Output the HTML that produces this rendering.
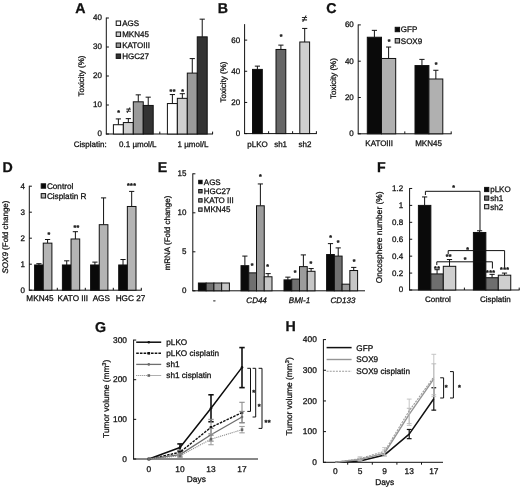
<!DOCTYPE html>
<html lang="en">
<head>
<meta charset="utf-8">
<title>Figure</title>
<style>
html, body { margin: 0; padding: 0; background: #ffffff; }
body { width: 520px; height: 488px; overflow: hidden; }
svg text { stroke: #111; stroke-width: 0.28px; }
svg { display: block; text-rendering: geometricPrecision; font-family: "Liberation Sans", Arial, Helvetica, sans-serif; }
</style>
</head>
<body>
<svg width="520" height="488" viewBox="0 0 520 488">
<rect x="0" y="0" width="520" height="488" fill="#ffffff"/>
<text x="75.20" y="12.80" font-size="14.2" text-anchor="start" font-weight="bold" font-style="normal" fill="#111" >A</text>
<line x1="106.30" y1="134.40" x2="106.30" y2="17.60" stroke="#111" stroke-width="1.0" />
<line x1="106.30" y1="134.00" x2="108.90" y2="134.00" stroke="#111" stroke-width="1.0" />
<text x="101.90" y="136.48" font-size="8.0" text-anchor="end" font-weight="normal" font-style="normal" fill="#111" >0</text>
<line x1="106.30" y1="105.00" x2="108.90" y2="105.00" stroke="#111" stroke-width="1.0" />
<text x="101.90" y="107.48" font-size="8.0" text-anchor="end" font-weight="normal" font-style="normal" fill="#111" >10</text>
<line x1="106.30" y1="76.00" x2="108.90" y2="76.00" stroke="#111" stroke-width="1.0" />
<text x="101.90" y="78.48" font-size="8.0" text-anchor="end" font-weight="normal" font-style="normal" fill="#111" >20</text>
<line x1="106.30" y1="47.00" x2="108.90" y2="47.00" stroke="#111" stroke-width="1.0" />
<text x="101.90" y="49.48" font-size="8.0" text-anchor="end" font-weight="normal" font-style="normal" fill="#111" >30</text>
<line x1="106.30" y1="18.00" x2="108.90" y2="18.00" stroke="#111" stroke-width="1.0" />
<text x="101.90" y="20.48" font-size="8.0" text-anchor="end" font-weight="normal" font-style="normal" fill="#111" >40</text>
<line x1="105.90" y1="134.00" x2="213.00" y2="134.00" stroke="#111" stroke-width="1.0" />
<line x1="159.80" y1="134.00" x2="159.80" y2="131.60" stroke="#111" stroke-width="1.0" />
<line x1="212.60" y1="134.00" x2="212.60" y2="131.60" stroke="#111" stroke-width="1.0" />
<text transform="translate(84.00,76.00) rotate(-90)" font-size="8.0" text-anchor="middle" fill="#111">Toxicity (%)</text>
<line x1="118.38" y1="118.92" x2="118.38" y2="124.72" stroke="#111" stroke-width="1.0" />
<line x1="115.78" y1="118.92" x2="120.97" y2="118.92" stroke="#111" stroke-width="1.0" />
<rect x="113.40" y="124.72" width="9.95" height="9.28" fill="#ffffff" stroke="#111" stroke-width="1.0"/>
<line x1="128.33" y1="118.63" x2="128.33" y2="122.55" stroke="#111" stroke-width="1.0" />
<line x1="125.73" y1="118.63" x2="130.93" y2="118.63" stroke="#111" stroke-width="1.0" />
<rect x="123.35" y="122.55" width="9.95" height="11.45" fill="#cfcfcf" stroke="#111" stroke-width="1.0"/>
<line x1="138.28" y1="94.85" x2="138.28" y2="101.81" stroke="#111" stroke-width="1.0" />
<line x1="135.68" y1="94.85" x2="140.88" y2="94.85" stroke="#111" stroke-width="1.0" />
<rect x="133.30" y="101.81" width="9.95" height="32.19" fill="#9a9a9a" stroke="#111" stroke-width="1.0"/>
<line x1="148.22" y1="97.17" x2="148.22" y2="105.44" stroke="#111" stroke-width="1.0" />
<line x1="145.62" y1="97.17" x2="150.82" y2="97.17" stroke="#111" stroke-width="1.0" />
<rect x="143.25" y="105.44" width="9.95" height="28.56" fill="#333333" stroke="#111" stroke-width="1.0"/>
<line x1="172.38" y1="94.56" x2="172.38" y2="103.55" stroke="#111" stroke-width="1.0" />
<line x1="169.78" y1="94.56" x2="174.97" y2="94.56" stroke="#111" stroke-width="1.0" />
<rect x="167.40" y="103.55" width="9.95" height="30.45" fill="#ffffff" stroke="#111" stroke-width="1.0"/>
<line x1="182.32" y1="93.69" x2="182.32" y2="98.33" stroke="#111" stroke-width="1.0" />
<line x1="179.72" y1="93.69" x2="184.92" y2="93.69" stroke="#111" stroke-width="1.0" />
<rect x="177.35" y="98.33" width="9.95" height="35.67" fill="#cfcfcf" stroke="#111" stroke-width="1.0"/>
<line x1="192.28" y1="58.60" x2="192.28" y2="73.10" stroke="#111" stroke-width="1.0" />
<line x1="189.68" y1="58.60" x2="194.88" y2="58.60" stroke="#111" stroke-width="1.0" />
<rect x="187.30" y="73.10" width="9.95" height="60.90" fill="#9a9a9a" stroke="#111" stroke-width="1.0"/>
<line x1="202.22" y1="19.16" x2="202.22" y2="36.85" stroke="#111" stroke-width="1.0" />
<line x1="199.62" y1="19.16" x2="204.82" y2="19.16" stroke="#111" stroke-width="1.0" />
<rect x="197.25" y="36.85" width="9.95" height="97.15" fill="#333333" stroke="#111" stroke-width="1.0"/>
<text x="118.50" y="115.03" font-size="7.0" text-anchor="middle" font-weight="bold" font-style="normal" fill="#111" >*</text>
<text x="128.50" y="112.81" font-size="8.5" text-anchor="middle" font-weight="normal" font-style="normal" fill="#111" >≠</text>
<text x="172.70" y="94.03" font-size="7.0" text-anchor="middle" font-weight="bold" font-style="normal" fill="#111" letter-spacing="0.4">**</text>
<text x="182.50" y="94.03" font-size="7.0" text-anchor="middle" font-weight="bold" font-style="normal" fill="#111" >*</text>
<rect x="116.20" y="21.00" width="4.40" height="4.40" fill="#ffffff" stroke="#111" stroke-width="1.0"/>
<text x="122.20" y="26.00" font-size="8.0" text-anchor="start" font-weight="normal" font-style="normal" fill="#111" >AGS</text>
<rect x="116.20" y="32.00" width="4.40" height="4.40" fill="#cfcfcf" stroke="#111" stroke-width="1.0"/>
<text x="122.20" y="37.00" font-size="8.0" text-anchor="start" font-weight="normal" font-style="normal" fill="#111" >MKN45</text>
<rect x="116.20" y="43.00" width="4.40" height="4.40" fill="#9a9a9a" stroke="#111" stroke-width="1.0"/>
<text x="122.20" y="48.00" font-size="8.0" text-anchor="start" font-weight="normal" font-style="normal" fill="#111" >KATOIII</text>
<rect x="116.20" y="54.00" width="4.40" height="4.40" fill="#333333" stroke="#111" stroke-width="1.0"/>
<text x="122.20" y="59.00" font-size="8.0" text-anchor="start" font-weight="normal" font-style="normal" fill="#111" >HGC27</text>
<text x="73.80" y="147.30" font-size="8.0" text-anchor="start" font-weight="normal" font-style="normal" fill="#111" >Cisplatin:</text>
<text x="137.80" y="147.30" font-size="8.0" text-anchor="middle" font-weight="normal" font-style="normal" fill="#111" >0.1 µmol/L</text>
<text x="193.00" y="147.30" font-size="8.0" text-anchor="middle" font-weight="normal" font-style="normal" fill="#111" >1 µmol/L</text>
<text x="217.80" y="12.80" font-size="14.2" text-anchor="start" font-weight="bold" font-style="normal" fill="#111" >B</text>
<line x1="244.60" y1="134.00" x2="244.60" y2="24.14" stroke="#111" stroke-width="1.0" />
<line x1="244.60" y1="133.60" x2="247.20" y2="133.60" stroke="#111" stroke-width="1.0" />
<text x="240.20" y="136.08" font-size="8.0" text-anchor="end" font-weight="normal" font-style="normal" fill="#111" >0</text>
<line x1="244.60" y1="102.44" x2="247.20" y2="102.44" stroke="#111" stroke-width="1.0" />
<text x="240.20" y="104.92" font-size="8.0" text-anchor="end" font-weight="normal" font-style="normal" fill="#111" >20</text>
<line x1="244.60" y1="71.28" x2="247.20" y2="71.28" stroke="#111" stroke-width="1.0" />
<text x="240.20" y="73.76" font-size="8.0" text-anchor="end" font-weight="normal" font-style="normal" fill="#111" >40</text>
<line x1="244.60" y1="40.12" x2="247.20" y2="40.12" stroke="#111" stroke-width="1.0" />
<text x="240.20" y="42.60" font-size="8.0" text-anchor="end" font-weight="normal" font-style="normal" fill="#111" >60</text>
<line x1="244.20" y1="133.60" x2="316.80" y2="133.60" stroke="#111" stroke-width="1.0" />
<line x1="268.60" y1="133.60" x2="268.60" y2="131.20" stroke="#111" stroke-width="1.0" />
<line x1="292.60" y1="133.60" x2="292.60" y2="131.20" stroke="#111" stroke-width="1.0" />
<line x1="316.40" y1="133.60" x2="316.40" y2="131.20" stroke="#111" stroke-width="1.0" />
<text transform="translate(225.50,82.00) rotate(-90)" font-size="8.0" text-anchor="middle" fill="#111">Toxicity (%)</text>
<line x1="257.40" y1="66.14" x2="257.40" y2="69.41" stroke="#111" stroke-width="1.0" />
<line x1="254.80" y1="66.14" x2="260.00" y2="66.14" stroke="#111" stroke-width="1.0" />
<rect x="252.50" y="69.41" width="9.80" height="64.19" fill="#0a0a0a" stroke="#111" stroke-width="1.0"/>
<line x1="280.90" y1="45.11" x2="280.90" y2="49.47" stroke="#111" stroke-width="1.0" />
<line x1="278.30" y1="45.11" x2="283.50" y2="45.11" stroke="#111" stroke-width="1.0" />
<rect x="276.00" y="49.47" width="9.80" height="84.13" fill="#666666" stroke="#111" stroke-width="1.0"/>
<line x1="304.70" y1="28.43" x2="304.70" y2="41.99" stroke="#111" stroke-width="1.0" />
<line x1="302.10" y1="28.43" x2="307.30" y2="28.43" stroke="#111" stroke-width="1.0" />
<rect x="299.80" y="41.99" width="9.80" height="91.61" fill="#cfcfcf" stroke="#111" stroke-width="1.0"/>
<text x="281.00" y="38.52" font-size="7.0" text-anchor="middle" font-weight="bold" font-style="normal" fill="#111" >*</text>
<text x="304.50" y="21.90" font-size="10" text-anchor="middle" font-weight="normal" font-style="normal" fill="#111" >≠</text>
<text x="257.50" y="146.80" font-size="8.0" text-anchor="middle" font-weight="normal" font-style="normal" fill="#111" >pLKO</text>
<text x="280.60" y="146.80" font-size="8.0" text-anchor="middle" font-weight="normal" font-style="normal" fill="#111" >sh1</text>
<text x="305.00" y="146.80" font-size="8.0" text-anchor="middle" font-weight="normal" font-style="normal" fill="#111" >sh2</text>
<text x="326.30" y="12.80" font-size="14.2" text-anchor="start" font-weight="bold" font-style="normal" fill="#111" >C</text>
<line x1="358.20" y1="134.20" x2="358.20" y2="24.50" stroke="#111" stroke-width="1.0" />
<line x1="358.20" y1="133.80" x2="360.80" y2="133.80" stroke="#111" stroke-width="1.0" />
<text x="353.80" y="136.28" font-size="8.0" text-anchor="end" font-weight="normal" font-style="normal" fill="#111" >0</text>
<line x1="358.20" y1="97.50" x2="360.80" y2="97.50" stroke="#111" stroke-width="1.0" />
<text x="353.80" y="99.98" font-size="8.0" text-anchor="end" font-weight="normal" font-style="normal" fill="#111" >20</text>
<line x1="358.20" y1="61.20" x2="360.80" y2="61.20" stroke="#111" stroke-width="1.0" />
<text x="353.80" y="63.68" font-size="8.0" text-anchor="end" font-weight="normal" font-style="normal" fill="#111" >40</text>
<line x1="358.20" y1="24.90" x2="360.80" y2="24.90" stroke="#111" stroke-width="1.0" />
<text x="353.80" y="27.38" font-size="8.0" text-anchor="end" font-weight="normal" font-style="normal" fill="#111" >60</text>
<line x1="357.80" y1="133.80" x2="451.60" y2="133.80" stroke="#111" stroke-width="1.0" />
<line x1="404.80" y1="133.80" x2="404.80" y2="131.40" stroke="#111" stroke-width="1.0" />
<line x1="451.20" y1="133.80" x2="451.20" y2="131.40" stroke="#111" stroke-width="1.0" />
<text transform="translate(335.50,78.60) rotate(-90)" font-size="8.0" text-anchor="middle" fill="#111">Toxicity (%)</text>
<line x1="374.40" y1="30.35" x2="374.40" y2="37.24" stroke="#111" stroke-width="1.0" />
<line x1="371.80" y1="30.35" x2="377.00" y2="30.35" stroke="#111" stroke-width="1.0" />
<rect x="367.30" y="37.24" width="14.20" height="96.56" fill="#0a0a0a" stroke="#111" stroke-width="1.0"/>
<line x1="388.60" y1="47.04" x2="388.60" y2="58.48" stroke="#111" stroke-width="1.0" />
<line x1="386.00" y1="47.04" x2="391.20" y2="47.04" stroke="#111" stroke-width="1.0" />
<rect x="381.50" y="58.48" width="14.20" height="75.32" fill="#b0b0b0" stroke="#111" stroke-width="1.0"/>
<line x1="421.95" y1="59.39" x2="421.95" y2="65.56" stroke="#111" stroke-width="1.0" />
<line x1="419.35" y1="59.39" x2="424.55" y2="59.39" stroke="#111" stroke-width="1.0" />
<rect x="415.00" y="65.56" width="13.90" height="68.24" fill="#0a0a0a" stroke="#111" stroke-width="1.0"/>
<line x1="435.85" y1="70.28" x2="435.85" y2="78.99" stroke="#111" stroke-width="1.0" />
<line x1="433.25" y1="70.28" x2="438.45" y2="70.28" stroke="#111" stroke-width="1.0" />
<rect x="428.90" y="78.99" width="13.90" height="54.81" fill="#b0b0b0" stroke="#111" stroke-width="1.0"/>
<text x="389.00" y="43.82" font-size="7.0" text-anchor="middle" font-weight="bold" font-style="normal" fill="#111" >*</text>
<text x="436.20" y="67.33" font-size="7.0" text-anchor="middle" font-weight="bold" font-style="normal" fill="#111" >*</text>
<rect x="395.20" y="27.30" width="4.40" height="4.40" fill="#0a0a0a" stroke="#111" stroke-width="1.0"/>
<text x="400.80" y="32.30" font-size="8.0" text-anchor="start" font-weight="normal" font-style="normal" fill="#111" >GFP</text>
<rect x="395.20" y="38.60" width="4.40" height="4.40" fill="#b0b0b0" stroke="#111" stroke-width="1.0"/>
<text x="400.80" y="43.60" font-size="8.0" text-anchor="start" font-weight="normal" font-style="normal" fill="#111" >SOX9</text>
<text x="379.20" y="146.30" font-size="8.0" text-anchor="middle" font-weight="normal" font-style="normal" fill="#111" >KATOIII</text>
<text x="428.50" y="146.30" font-size="8.0" text-anchor="middle" font-weight="normal" font-style="normal" fill="#111" >MKN45</text>
<text x="2.50" y="172.00" font-size="14.2" text-anchor="start" font-weight="bold" font-style="normal" fill="#111" >D</text>
<line x1="29.30" y1="290.60" x2="29.30" y2="185.80" stroke="#111" stroke-width="1.0" />
<line x1="29.30" y1="290.20" x2="31.90" y2="290.20" stroke="#111" stroke-width="1.0" />
<text x="24.90" y="292.68" font-size="8.0" text-anchor="end" font-weight="normal" font-style="normal" fill="#111" >0</text>
<line x1="29.30" y1="264.20" x2="31.90" y2="264.20" stroke="#111" stroke-width="1.0" />
<text x="24.90" y="266.68" font-size="8.0" text-anchor="end" font-weight="normal" font-style="normal" fill="#111" >1</text>
<line x1="29.30" y1="238.20" x2="31.90" y2="238.20" stroke="#111" stroke-width="1.0" />
<text x="24.90" y="240.68" font-size="8.0" text-anchor="end" font-weight="normal" font-style="normal" fill="#111" >2</text>
<line x1="29.30" y1="212.20" x2="31.90" y2="212.20" stroke="#111" stroke-width="1.0" />
<text x="24.90" y="214.68" font-size="8.0" text-anchor="end" font-weight="normal" font-style="normal" fill="#111" >3</text>
<line x1="29.30" y1="186.20" x2="31.90" y2="186.20" stroke="#111" stroke-width="1.0" />
<text x="24.90" y="188.68" font-size="8.0" text-anchor="end" font-weight="normal" font-style="normal" fill="#111" >4</text>
<line x1="28.90" y1="290.20" x2="141.80" y2="290.20" stroke="#111" stroke-width="1.0" />
<line x1="57.30" y1="290.20" x2="57.30" y2="287.80" stroke="#111" stroke-width="1.0" />
<line x1="85.30" y1="290.20" x2="85.30" y2="287.80" stroke="#111" stroke-width="1.0" />
<line x1="113.30" y1="290.20" x2="113.30" y2="287.80" stroke="#111" stroke-width="1.0" />
<line x1="141.30" y1="290.20" x2="141.30" y2="287.80" stroke="#111" stroke-width="1.0" />
<text transform="translate(8,237) rotate(-90)" font-size="8.0" text-anchor="middle" fill="#111"><tspan font-style="italic">SOX9</tspan> (Fold change)</text>
<line x1="38.93" y1="263.68" x2="38.93" y2="264.98" stroke="#111" stroke-width="1.0" />
<line x1="36.33" y1="263.68" x2="41.53" y2="263.68" stroke="#111" stroke-width="1.0" />
<rect x="34.60" y="264.98" width="8.65" height="25.22" fill="#0a0a0a" stroke="#111" stroke-width="1.0"/>
<line x1="47.58" y1="239.50" x2="47.58" y2="243.14" stroke="#111" stroke-width="1.0" />
<line x1="44.98" y1="239.50" x2="50.18" y2="239.50" stroke="#111" stroke-width="1.0" />
<rect x="43.25" y="243.14" width="8.65" height="47.06" fill="#b4b4b4" stroke="#111" stroke-width="1.0"/>
<line x1="66.72" y1="260.82" x2="66.72" y2="264.98" stroke="#111" stroke-width="1.0" />
<line x1="64.12" y1="260.82" x2="69.32" y2="260.82" stroke="#111" stroke-width="1.0" />
<rect x="62.40" y="264.98" width="8.65" height="25.22" fill="#0a0a0a" stroke="#111" stroke-width="1.0"/>
<line x1="75.38" y1="231.70" x2="75.38" y2="238.98" stroke="#111" stroke-width="1.0" />
<line x1="72.78" y1="231.70" x2="77.97" y2="231.70" stroke="#111" stroke-width="1.0" />
<rect x="71.05" y="238.98" width="8.65" height="51.22" fill="#b4b4b4" stroke="#111" stroke-width="1.0"/>
<line x1="94.92" y1="262.12" x2="94.92" y2="264.98" stroke="#111" stroke-width="1.0" />
<line x1="92.33" y1="262.12" x2="97.52" y2="262.12" stroke="#111" stroke-width="1.0" />
<rect x="90.60" y="264.98" width="8.65" height="25.22" fill="#0a0a0a" stroke="#111" stroke-width="1.0"/>
<line x1="103.57" y1="197.90" x2="103.57" y2="224.68" stroke="#111" stroke-width="1.0" />
<line x1="100.97" y1="197.90" x2="106.17" y2="197.90" stroke="#111" stroke-width="1.0" />
<rect x="99.25" y="224.68" width="8.65" height="65.52" fill="#b4b4b4" stroke="#111" stroke-width="1.0"/>
<line x1="123.03" y1="259.52" x2="123.03" y2="264.98" stroke="#111" stroke-width="1.0" />
<line x1="120.43" y1="259.52" x2="125.62" y2="259.52" stroke="#111" stroke-width="1.0" />
<rect x="118.70" y="264.98" width="8.65" height="25.22" fill="#0a0a0a" stroke="#111" stroke-width="1.0"/>
<line x1="131.68" y1="191.40" x2="131.68" y2="206.48" stroke="#111" stroke-width="1.0" />
<line x1="129.08" y1="191.40" x2="134.28" y2="191.40" stroke="#111" stroke-width="1.0" />
<rect x="127.35" y="206.48" width="8.65" height="83.72" fill="#b4b4b4" stroke="#111" stroke-width="1.0"/>
<text x="48.80" y="237.22" font-size="7.0" text-anchor="middle" font-weight="bold" font-style="normal" fill="#111" >*</text>
<text x="76.50" y="229.83" font-size="7.0" text-anchor="middle" font-weight="bold" font-style="normal" fill="#111" letter-spacing="0.4">**</text>
<text x="131.70" y="187.62" font-size="7.0" text-anchor="middle" font-weight="bold" font-style="normal" fill="#111" letter-spacing="0.4">***</text>
<rect x="41.20" y="183.80" width="4.40" height="4.40" fill="#0a0a0a" stroke="#111" stroke-width="1.0"/>
<text x="46.90" y="189.00" font-size="8.2" text-anchor="start" font-weight="normal" font-style="normal" fill="#111" >Control</text>
<rect x="41.20" y="193.60" width="4.40" height="4.40" fill="#b4b4b4" stroke="#111" stroke-width="1.0"/>
<text x="46.90" y="198.80" font-size="8.2" text-anchor="start" font-weight="normal" font-style="normal" fill="#111" >Cisplatin R</text>
<text x="40.00" y="301.20" font-size="8.2" text-anchor="middle" font-weight="normal" font-style="normal" fill="#111" >MKN45</text>
<text x="72.80" y="301.20" font-size="8.2" text-anchor="middle" font-weight="normal" font-style="normal" fill="#111" >KATO III</text>
<text x="101.30" y="301.20" font-size="8.2" text-anchor="middle" font-weight="normal" font-style="normal" fill="#111" >AGS</text>
<text x="130.50" y="301.20" font-size="8.2" text-anchor="middle" font-weight="normal" font-style="normal" fill="#111" >HGC 27</text>
<text x="157.80" y="171.80" font-size="14.2" text-anchor="start" font-weight="bold" font-style="normal" fill="#111" >E</text>
<line x1="192.80" y1="291.20" x2="192.80" y2="173.40" stroke="#111" stroke-width="1.0" />
<line x1="192.80" y1="290.80" x2="195.40" y2="290.80" stroke="#111" stroke-width="1.0" />
<text x="186.40" y="292.68" font-size="8.0" text-anchor="end" font-weight="normal" font-style="normal" fill="#111" >0</text>
<line x1="192.80" y1="251.80" x2="195.40" y2="251.80" stroke="#111" stroke-width="1.0" />
<text x="186.40" y="253.68" font-size="8.0" text-anchor="end" font-weight="normal" font-style="normal" fill="#111" >5</text>
<line x1="192.80" y1="212.80" x2="195.40" y2="212.80" stroke="#111" stroke-width="1.0" />
<text x="186.40" y="214.68" font-size="8.0" text-anchor="end" font-weight="normal" font-style="normal" fill="#111" >10</text>
<line x1="192.80" y1="173.80" x2="195.40" y2="173.80" stroke="#111" stroke-width="1.0" />
<text x="186.40" y="175.68" font-size="8.0" text-anchor="end" font-weight="normal" font-style="normal" fill="#111" >15</text>
<line x1="192.40" y1="290.80" x2="365.00" y2="290.80" stroke="#111" stroke-width="1.0" />
<text transform="translate(169.80,233.00) rotate(-90)" font-size="8.0" text-anchor="middle" fill="#111">mRNA (Fold change)</text>
<rect x="198.40" y="283.00" width="7.75" height="7.80" fill="#0a0a0a" stroke="#111" stroke-width="1.0"/>
<rect x="206.15" y="283.00" width="7.75" height="7.80" fill="#707070" stroke="#111" stroke-width="1.0"/>
<rect x="213.90" y="283.00" width="7.75" height="7.80" fill="#9c9c9c" stroke="#111" stroke-width="1.0"/>
<rect x="221.65" y="283.00" width="7.75" height="7.80" fill="#c6c6c6" stroke="#111" stroke-width="1.0"/>
<line x1="244.88" y1="256.09" x2="244.88" y2="265.68" stroke="#111" stroke-width="1.0" />
<line x1="242.28" y1="256.09" x2="247.47" y2="256.09" stroke="#111" stroke-width="1.0" />
<rect x="241.00" y="265.68" width="7.75" height="25.12" fill="#0a0a0a" stroke="#111" stroke-width="1.0"/>
<rect x="248.75" y="272.86" width="7.75" height="17.94" fill="#707070" stroke="#111" stroke-width="1.0"/>
<line x1="260.38" y1="183.94" x2="260.38" y2="205.78" stroke="#111" stroke-width="1.0" />
<line x1="257.77" y1="183.94" x2="262.98" y2="183.94" stroke="#111" stroke-width="1.0" />
<rect x="256.50" y="205.78" width="7.75" height="85.02" fill="#9c9c9c" stroke="#111" stroke-width="1.0"/>
<line x1="268.12" y1="273.64" x2="268.12" y2="276.76" stroke="#111" stroke-width="1.0" />
<line x1="265.52" y1="273.64" x2="270.73" y2="273.64" stroke="#111" stroke-width="1.0" />
<rect x="264.25" y="276.76" width="7.75" height="14.04" fill="#c6c6c6" stroke="#111" stroke-width="1.0"/>
<line x1="287.88" y1="277.15" x2="287.88" y2="279.88" stroke="#111" stroke-width="1.0" />
<line x1="285.27" y1="277.15" x2="290.48" y2="277.15" stroke="#111" stroke-width="1.0" />
<rect x="284.00" y="279.88" width="7.75" height="10.92" fill="#0a0a0a" stroke="#111" stroke-width="1.0"/>
<rect x="291.75" y="279.10" width="7.75" height="11.70" fill="#707070" stroke="#111" stroke-width="1.0"/>
<line x1="303.38" y1="254.92" x2="303.38" y2="266.62" stroke="#111" stroke-width="1.0" />
<line x1="300.77" y1="254.92" x2="305.98" y2="254.92" stroke="#111" stroke-width="1.0" />
<rect x="299.50" y="266.62" width="7.75" height="24.18" fill="#9c9c9c" stroke="#111" stroke-width="1.0"/>
<line x1="311.12" y1="268.57" x2="311.12" y2="271.30" stroke="#111" stroke-width="1.0" />
<line x1="308.52" y1="268.57" x2="313.73" y2="268.57" stroke="#111" stroke-width="1.0" />
<rect x="307.25" y="271.30" width="7.75" height="19.50" fill="#c6c6c6" stroke="#111" stroke-width="1.0"/>
<line x1="330.48" y1="243.61" x2="330.48" y2="254.53" stroke="#111" stroke-width="1.0" />
<line x1="327.88" y1="243.61" x2="333.08" y2="243.61" stroke="#111" stroke-width="1.0" />
<rect x="326.60" y="254.53" width="7.75" height="36.27" fill="#0a0a0a" stroke="#111" stroke-width="1.0"/>
<line x1="338.23" y1="247.90" x2="338.23" y2="256.09" stroke="#111" stroke-width="1.0" />
<line x1="335.62" y1="247.90" x2="340.83" y2="247.90" stroke="#111" stroke-width="1.0" />
<rect x="334.35" y="256.09" width="7.75" height="34.71" fill="#707070" stroke="#111" stroke-width="1.0"/>
<rect x="342.10" y="284.17" width="7.75" height="6.63" fill="#9c9c9c" stroke="#111" stroke-width="1.0"/>
<line x1="353.73" y1="267.40" x2="353.73" y2="270.52" stroke="#111" stroke-width="1.0" />
<line x1="351.12" y1="267.40" x2="356.33" y2="267.40" stroke="#111" stroke-width="1.0" />
<rect x="349.85" y="270.52" width="7.75" height="20.28" fill="#c6c6c6" stroke="#111" stroke-width="1.0"/>
<text x="252.00" y="268.22" font-size="7.0" text-anchor="middle" font-weight="bold" font-style="normal" fill="#111" >*</text>
<text x="260.40" y="179.33" font-size="7.0" text-anchor="middle" font-weight="bold" font-style="normal" fill="#111" >*</text>
<text x="267.60" y="269.42" font-size="7.0" text-anchor="middle" font-weight="bold" font-style="normal" fill="#111" >*</text>
<text x="295.00" y="274.62" font-size="7.0" text-anchor="middle" font-weight="bold" font-style="normal" fill="#111" >*</text>
<text x="310.80" y="265.62" font-size="7.0" text-anchor="middle" font-weight="bold" font-style="normal" fill="#111" >*</text>
<text x="330.60" y="240.03" font-size="7.0" text-anchor="middle" font-weight="bold" font-style="normal" fill="#111" >*</text>
<text x="338.20" y="244.62" font-size="7.0" text-anchor="middle" font-weight="bold" font-style="normal" fill="#111" >*</text>
<text x="354.20" y="263.82" font-size="7.0" text-anchor="middle" font-weight="bold" font-style="normal" fill="#111" >*</text>
<rect x="198.70" y="180.30" width="3.40" height="3.40" fill="#0a0a0a" stroke="#111" stroke-width="1.0"/>
<text x="203.80" y="184.80" font-size="8.0" text-anchor="start" font-weight="normal" font-style="normal" fill="#111" >AGS</text>
<rect x="198.70" y="189.50" width="3.40" height="3.40" fill="#707070" stroke="#111" stroke-width="1.0"/>
<text x="203.80" y="194.00" font-size="8.0" text-anchor="start" font-weight="normal" font-style="normal" fill="#111" >HGC27</text>
<rect x="198.70" y="198.70" width="3.40" height="3.40" fill="#9c9c9c" stroke="#111" stroke-width="1.0"/>
<text x="203.80" y="203.20" font-size="8.0" text-anchor="start" font-weight="normal" font-style="normal" fill="#111" >KATO III</text>
<rect x="198.70" y="207.90" width="3.40" height="3.40" fill="#c6c6c6" stroke="#111" stroke-width="1.0"/>
<text x="203.80" y="212.40" font-size="8.0" text-anchor="start" font-weight="normal" font-style="normal" fill="#111" >MKN45</text>
<text x="214.30" y="303.20" font-size="8.0" text-anchor="middle" font-weight="normal" font-style="normal" fill="#111" >-</text>
<text x="256.60" y="303.20" font-size="8.0" text-anchor="middle" font-weight="normal" font-style="italic" fill="#111" >CD44</text>
<text x="299.50" y="303.20" font-size="8.0" text-anchor="middle" font-weight="normal" font-style="italic" fill="#111" >BMI-1</text>
<text x="343.00" y="303.20" font-size="8.0" text-anchor="middle" font-weight="normal" font-style="italic" fill="#111" >CD133</text>
<text x="377.00" y="171.50" font-size="14.2" text-anchor="start" font-weight="bold" font-style="normal" fill="#111" >F</text>
<line x1="409.60" y1="290.40" x2="409.60" y2="188.08" stroke="#111" stroke-width="1.0" />
<line x1="409.60" y1="290.00" x2="412.20" y2="290.00" stroke="#111" stroke-width="1.0" />
<text x="403.20" y="292.48" font-size="8.0" text-anchor="end" font-weight="normal" font-style="normal" fill="#111" >0</text>
<line x1="409.60" y1="273.08" x2="412.20" y2="273.08" stroke="#111" stroke-width="1.0" />
<text x="403.20" y="275.56" font-size="8.0" text-anchor="end" font-weight="normal" font-style="normal" fill="#111" >0.2</text>
<line x1="409.60" y1="256.16" x2="412.20" y2="256.16" stroke="#111" stroke-width="1.0" />
<text x="403.20" y="258.64" font-size="8.0" text-anchor="end" font-weight="normal" font-style="normal" fill="#111" >0.4</text>
<line x1="409.60" y1="239.24" x2="412.20" y2="239.24" stroke="#111" stroke-width="1.0" />
<text x="403.20" y="241.72" font-size="8.0" text-anchor="end" font-weight="normal" font-style="normal" fill="#111" >0.6</text>
<line x1="409.60" y1="222.32" x2="412.20" y2="222.32" stroke="#111" stroke-width="1.0" />
<text x="403.20" y="224.80" font-size="8.0" text-anchor="end" font-weight="normal" font-style="normal" fill="#111" >0.8</text>
<line x1="409.60" y1="205.40" x2="412.20" y2="205.40" stroke="#111" stroke-width="1.0" />
<text x="403.20" y="207.88" font-size="8.0" text-anchor="end" font-weight="normal" font-style="normal" fill="#111" >1</text>
<line x1="409.60" y1="188.48" x2="412.20" y2="188.48" stroke="#111" stroke-width="1.0" />
<text x="403.20" y="190.96" font-size="8.0" text-anchor="end" font-weight="normal" font-style="normal" fill="#111" >1.2</text>
<line x1="409.20" y1="290.00" x2="519.60" y2="290.00" stroke="#111" stroke-width="1.0" />
<line x1="464.40" y1="290.00" x2="464.40" y2="287.60" stroke="#111" stroke-width="1.0" />
<line x1="519.20" y1="290.00" x2="519.20" y2="287.60" stroke="#111" stroke-width="1.0" />
<text transform="translate(382.40,237.30) rotate(-90)" font-size="8.4" text-anchor="middle" fill="#111">Oncosphere number (%)</text>
<line x1="424.62" y1="196.94" x2="424.62" y2="205.40" stroke="#111" stroke-width="1.0" />
<line x1="422.02" y1="196.94" x2="427.23" y2="196.94" stroke="#111" stroke-width="1.0" />
<rect x="418.40" y="205.40" width="12.45" height="84.60" fill="#0a0a0a" stroke="#111" stroke-width="1.0"/>
<line x1="437.07" y1="269.70" x2="437.07" y2="273.93" stroke="#111" stroke-width="1.0" />
<line x1="434.47" y1="269.70" x2="439.68" y2="269.70" stroke="#111" stroke-width="1.0" />
<rect x="430.85" y="273.93" width="12.45" height="16.07" fill="#6e6e6e" stroke="#111" stroke-width="1.0"/>
<line x1="449.52" y1="259.54" x2="449.52" y2="266.31" stroke="#111" stroke-width="1.0" />
<line x1="446.92" y1="259.54" x2="452.12" y2="259.54" stroke="#111" stroke-width="1.0" />
<rect x="443.30" y="266.31" width="12.45" height="23.69" fill="#cfcfcf" stroke="#111" stroke-width="1.0"/>
<line x1="479.62" y1="230.78" x2="479.62" y2="232.47" stroke="#111" stroke-width="1.0" />
<line x1="477.02" y1="230.78" x2="482.23" y2="230.78" stroke="#111" stroke-width="1.0" />
<rect x="473.40" y="232.47" width="12.45" height="57.53" fill="#0a0a0a" stroke="#111" stroke-width="1.0"/>
<line x1="492.07" y1="274.35" x2="492.07" y2="277.73" stroke="#111" stroke-width="1.0" />
<line x1="489.47" y1="274.35" x2="494.68" y2="274.35" stroke="#111" stroke-width="1.0" />
<rect x="485.85" y="277.73" width="12.45" height="12.27" fill="#6e6e6e" stroke="#111" stroke-width="1.0"/>
<line x1="504.52" y1="273.08" x2="504.52" y2="275.19" stroke="#111" stroke-width="1.0" />
<line x1="501.92" y1="273.08" x2="507.12" y2="273.08" stroke="#111" stroke-width="1.0" />
<rect x="498.30" y="275.19" width="12.45" height="14.81" fill="#cfcfcf" stroke="#111" stroke-width="1.0"/>
<polyline points="425.4,195.0 425.4,191.3 480,191.3 480,230.6" fill="none" stroke="#111" stroke-width="1.0"/>
<polyline points="448.2,254.2 448.2,250.6 504.6,250.6 504.6,267.5" fill="none" stroke="#111" stroke-width="1.0"/>
<polyline points="436.8,265 436.8,261.8 492.4,261.8 492.4,268.5" fill="none" stroke="#111" stroke-width="1.0"/>
<text x="453.70" y="189.53" font-size="7.0" text-anchor="middle" font-weight="bold" font-style="normal" fill="#111" >*</text>
<text x="467.50" y="251.62" font-size="7.0" text-anchor="middle" font-weight="bold" font-style="normal" fill="#111" >*</text>
<text x="465.20" y="261.62" font-size="7.0" text-anchor="middle" font-weight="bold" font-style="normal" fill="#111" >*</text>
<text x="437.20" y="271.02" font-size="7.0" text-anchor="middle" font-weight="bold" font-style="normal" fill="#111" letter-spacing="0.4">**</text>
<text x="448.80" y="259.22" font-size="7.0" text-anchor="middle" font-weight="bold" font-style="normal" fill="#111" letter-spacing="0.4">**</text>
<text x="490.80" y="275.22" font-size="7.0" text-anchor="middle" font-weight="bold" font-style="normal" fill="#111" letter-spacing="0.4">***</text>
<text x="504.80" y="272.22" font-size="7.0" text-anchor="middle" font-weight="bold" font-style="normal" fill="#111" letter-spacing="0.4">***</text>
<rect x="484.60" y="187.40" width="4.20" height="4.20" fill="#0a0a0a" stroke="#111" stroke-width="1.0"/>
<text x="490.20" y="192.30" font-size="8.0" text-anchor="start" font-weight="normal" font-style="normal" fill="#111" >pLKO</text>
<rect x="484.60" y="196.00" width="4.20" height="4.20" fill="#6e6e6e" stroke="#111" stroke-width="1.0"/>
<text x="490.20" y="200.90" font-size="8.0" text-anchor="start" font-weight="normal" font-style="normal" fill="#111" >sh1</text>
<rect x="484.60" y="204.60" width="4.20" height="4.20" fill="#cfcfcf" stroke="#111" stroke-width="1.0"/>
<text x="490.20" y="209.50" font-size="8.0" text-anchor="start" font-weight="normal" font-style="normal" fill="#111" >sh2</text>
<text x="438.00" y="301.60" font-size="8.0" text-anchor="middle" font-weight="normal" font-style="normal" fill="#111" >Control</text>
<text x="495.30" y="301.60" font-size="8.0" text-anchor="middle" font-weight="normal" font-style="normal" fill="#111" >Cisplatin</text>
<text x="95.00" y="331.50" font-size="14.2" text-anchor="start" font-weight="bold" font-style="normal" fill="#111" >G</text>
<line x1="133.60" y1="459.40" x2="133.60" y2="339.65" stroke="#111" stroke-width="1.0" />
<line x1="133.60" y1="459.00" x2="136.20" y2="459.00" stroke="#111" stroke-width="1.0" />
<text x="127.00" y="461.62" font-size="8.4" text-anchor="end" font-weight="normal" font-style="normal" fill="#111" >0</text>
<line x1="133.60" y1="419.35" x2="136.20" y2="419.35" stroke="#111" stroke-width="1.0" />
<text x="127.00" y="421.97" font-size="8.4" text-anchor="end" font-weight="normal" font-style="normal" fill="#111" >100</text>
<line x1="133.60" y1="379.70" x2="136.20" y2="379.70" stroke="#111" stroke-width="1.0" />
<text x="127.00" y="382.32" font-size="8.4" text-anchor="end" font-weight="normal" font-style="normal" fill="#111" >200</text>
<line x1="133.60" y1="340.05" x2="136.20" y2="340.05" stroke="#111" stroke-width="1.0" />
<text x="127.00" y="342.67" font-size="8.4" text-anchor="end" font-weight="normal" font-style="normal" fill="#111" >300</text>
<line x1="133.20" y1="459.00" x2="258.00" y2="459.00" stroke="#111" stroke-width="1.0" />
<text x="148.90" y="471.60" font-size="8.4" text-anchor="middle" font-weight="normal" font-style="normal" fill="#111" >0</text>
<text x="180.00" y="471.60" font-size="8.4" text-anchor="middle" font-weight="normal" font-style="normal" fill="#111" >10</text>
<text x="211.00" y="471.60" font-size="8.4" text-anchor="middle" font-weight="normal" font-style="normal" fill="#111" >13</text>
<text x="242.00" y="471.60" font-size="8.4" text-anchor="middle" font-weight="normal" font-style="normal" fill="#111" >17</text>
<text x="196.30" y="482.20" font-size="8.4" text-anchor="middle" font-weight="normal" font-style="normal" fill="#111" >Days</text>
<text transform="translate(108.6,398.8) rotate(-90)" font-size="8.4" text-anchor="middle" fill="#111">Tumor volume (mm<tspan baseline-shift="super" font-size="5.6">3</tspan>)</text>
<line x1="180.00" y1="443.93" x2="180.00" y2="451.07" stroke="#111" stroke-width="1.6" />
<line x1="177.30" y1="443.93" x2="182.70" y2="443.93" stroke="#111" stroke-width="1.6" />
<line x1="177.30" y1="451.07" x2="182.70" y2="451.07" stroke="#111" stroke-width="1.6" />
<line x1="211.00" y1="394.77" x2="211.00" y2="421.73" stroke="#111" stroke-width="1.6" />
<line x1="208.30" y1="394.77" x2="213.70" y2="394.77" stroke="#111" stroke-width="1.6" />
<line x1="208.30" y1="421.73" x2="213.70" y2="421.73" stroke="#111" stroke-width="1.6" />
<line x1="242.00" y1="347.58" x2="242.00" y2="387.63" stroke="#111" stroke-width="1.6" />
<line x1="239.30" y1="347.58" x2="244.70" y2="347.58" stroke="#111" stroke-width="1.6" />
<line x1="239.30" y1="387.63" x2="244.70" y2="387.63" stroke="#111" stroke-width="1.6" />
<polyline points="148.9,459.0 180.0,447.5 211.0,408.2 242.0,367.4" fill="none" stroke="#0c0c0c" stroke-width="1.5" stroke-linejoin="round" />
<circle cx="148.9" cy="459.0" r="1.3" fill="#111"/>
<circle cx="180.0" cy="447.5" r="1.3" fill="#111"/>
<circle cx="211.0" cy="408.2" r="1.3" fill="#111"/>
<circle cx="242.0" cy="367.4" r="1.3" fill="#111"/>
<line x1="180.00" y1="449.88" x2="180.00" y2="454.64" stroke="#8c8c8c" stroke-width="1.1" />
<line x1="177.30" y1="449.88" x2="182.70" y2="449.88" stroke="#8c8c8c" stroke-width="1.1" />
<line x1="177.30" y1="454.64" x2="182.70" y2="454.64" stroke="#8c8c8c" stroke-width="1.1" />
<line x1="211.00" y1="419.35" x2="211.00" y2="435.21" stroke="#8c8c8c" stroke-width="1.1" />
<line x1="208.30" y1="419.35" x2="213.70" y2="419.35" stroke="#8c8c8c" stroke-width="1.1" />
<line x1="208.30" y1="435.21" x2="213.70" y2="435.21" stroke="#8c8c8c" stroke-width="1.1" />
<line x1="242.00" y1="402.30" x2="242.00" y2="422.92" stroke="#8c8c8c" stroke-width="1.1" />
<line x1="239.30" y1="402.30" x2="244.70" y2="402.30" stroke="#8c8c8c" stroke-width="1.1" />
<line x1="239.30" y1="422.92" x2="244.70" y2="422.92" stroke="#8c8c8c" stroke-width="1.1" />
<polyline points="148.9,459.0 180.0,452.3 211.0,427.3 242.0,412.6" fill="none" stroke="#111" stroke-width="1.4" stroke-linejoin="round" stroke-dasharray="2.6 1.1"/>
<rect x="147.6" y="457.7" width="2.6" height="2.6" fill="#111"/>
<rect x="178.7" y="451.0" width="2.6" height="2.6" fill="#111"/>
<rect x="209.7" y="426.0" width="2.6" height="2.6" fill="#111"/>
<rect x="240.7" y="411.3" width="2.6" height="2.6" fill="#111"/>
<line x1="180.00" y1="453.05" x2="180.00" y2="456.22" stroke="#8a8a8a" stroke-width="1.1" />
<line x1="177.30" y1="453.05" x2="182.70" y2="453.05" stroke="#8a8a8a" stroke-width="1.1" />
<line x1="177.30" y1="456.22" x2="182.70" y2="456.22" stroke="#8a8a8a" stroke-width="1.1" />
<line x1="211.00" y1="428.47" x2="211.00" y2="441.16" stroke="#8a8a8a" stroke-width="1.1" />
<line x1="208.30" y1="428.47" x2="213.70" y2="428.47" stroke="#8a8a8a" stroke-width="1.1" />
<line x1="208.30" y1="441.16" x2="213.70" y2="441.16" stroke="#8a8a8a" stroke-width="1.1" />
<line x1="242.00" y1="411.42" x2="242.00" y2="422.52" stroke="#8a8a8a" stroke-width="1.1" />
<line x1="239.30" y1="411.42" x2="244.70" y2="411.42" stroke="#8a8a8a" stroke-width="1.1" />
<line x1="239.30" y1="422.52" x2="244.70" y2="422.52" stroke="#8a8a8a" stroke-width="1.1" />
<polyline points="148.9,459.0 180.0,454.6 211.0,434.8 242.0,417.0" fill="none" stroke="#6e6e6e" stroke-width="1.3" stroke-linejoin="round" />
<circle cx="148.9" cy="459.0" r="1.3" fill="#6a6a6a"/>
<circle cx="180.0" cy="454.6" r="1.3" fill="#6a6a6a"/>
<circle cx="211.0" cy="434.8" r="1.3" fill="#6a6a6a"/>
<circle cx="242.0" cy="417.0" r="1.3" fill="#6a6a6a"/>
<line x1="180.00" y1="454.24" x2="180.00" y2="457.41" stroke="#a0a0a0" stroke-width="1.1" />
<line x1="177.30" y1="454.24" x2="182.70" y2="454.24" stroke="#a0a0a0" stroke-width="1.1" />
<line x1="177.30" y1="457.41" x2="182.70" y2="457.41" stroke="#a0a0a0" stroke-width="1.1" />
<line x1="211.00" y1="433.62" x2="211.00" y2="444.73" stroke="#a0a0a0" stroke-width="1.1" />
<line x1="208.30" y1="433.62" x2="213.70" y2="433.62" stroke="#a0a0a0" stroke-width="1.1" />
<line x1="208.30" y1="444.73" x2="213.70" y2="444.73" stroke="#a0a0a0" stroke-width="1.1" />
<line x1="242.00" y1="426.49" x2="242.00" y2="432.83" stroke="#a0a0a0" stroke-width="1.1" />
<line x1="239.30" y1="426.49" x2="244.70" y2="426.49" stroke="#a0a0a0" stroke-width="1.1" />
<line x1="239.30" y1="432.83" x2="244.70" y2="432.83" stroke="#a0a0a0" stroke-width="1.1" />
<polyline points="148.9,459.0 180.0,455.8 211.0,439.2 242.0,429.7" fill="none" stroke="#8c8c8c" stroke-width="1.1" stroke-linejoin="round" stroke-dasharray="1.1 0.9"/>
<rect x="147.6" y="457.7" width="2.6" height="2.6" fill="#666"/>
<rect x="178.7" y="454.5" width="2.6" height="2.6" fill="#666"/>
<rect x="209.7" y="437.9" width="2.6" height="2.6" fill="#666"/>
<rect x="240.7" y="428.4" width="2.6" height="2.6" fill="#666"/>
<line x1="136.2" y1="342.2" x2="161.2" y2="342.2" stroke="#0c0c0c" stroke-width="1.5" />
<circle cx="148.8" cy="342.2" r="1.3" fill="#111"/>
<text x="166.30" y="345.10" font-size="8.2" text-anchor="start" font-weight="normal" font-style="normal" fill="#111" >pLKO</text>
<line x1="136.2" y1="353.3" x2="161.2" y2="353.3" stroke="#111" stroke-width="1.4" stroke-dasharray="2.6 1.1"/>
<rect x="147.5" y="352.0" width="2.6" height="2.6" fill="#111"/>
<text x="166.30" y="356.20" font-size="8.2" text-anchor="start" font-weight="normal" font-style="normal" fill="#111" >pLKO cisplatin</text>
<line x1="136.2" y1="364.4" x2="161.2" y2="364.4" stroke="#6e6e6e" stroke-width="1.3" />
<circle cx="148.8" cy="364.4" r="1.3" fill="#6a6a6a"/>
<text x="166.30" y="367.30" font-size="8.2" text-anchor="start" font-weight="normal" font-style="normal" fill="#111" >sh1</text>
<line x1="136.2" y1="375.5" x2="148.8" y2="375.5" stroke="#8c8c8c" stroke-width="1.1" stroke-dasharray="1.1 0.9"/>
<line x1="148.8" y1="375.5" x2="161.2" y2="375.5" stroke="#b0b0b0" stroke-width="1.0"/>
<rect x="147.5" y="374.2" width="2.6" height="2.6" fill="#666"/>
<text x="166.30" y="378.40" font-size="8.2" text-anchor="start" font-weight="normal" font-style="normal" fill="#111" >sh1 cisplatin</text>
<polyline points="247.3,368.3 250.5,368.3 250.5,411.4 247.3,411.4" fill="none" stroke="#111" stroke-width="1.0"/>
<polyline points="252.6,368.3 255.7,368.3 255.7,417.0 252.6,417.0" fill="none" stroke="#111" stroke-width="1.0"/>
<polyline points="258.6,368.3 262.0,368.3 262.0,428.4 258.6,428.4" fill="none" stroke="#111" stroke-width="1.0"/>
<text x="253.80" y="394.86" font-size="7.4" text-anchor="middle" font-weight="bold" font-style="normal" fill="#111" >*</text>
<text x="259.20" y="408.75" font-size="7.4" text-anchor="middle" font-weight="bold" font-style="normal" fill="#111" >*</text>
<text x="267.70" y="425.45" font-size="7.4" text-anchor="middle" font-weight="bold" font-style="normal" fill="#111" letter-spacing="0.4">**</text>
<text x="285.40" y="331.00" font-size="14.2" text-anchor="start" font-weight="bold" font-style="normal" fill="#111" >H</text>
<line x1="323.40" y1="462.70" x2="323.40" y2="339.18" stroke="#111" stroke-width="1.0" />
<line x1="323.40" y1="462.30" x2="326.00" y2="462.30" stroke="#111" stroke-width="1.0" />
<text x="316.80" y="464.92" font-size="8.4" text-anchor="end" font-weight="normal" font-style="normal" fill="#111" >0</text>
<line x1="323.40" y1="431.62" x2="326.00" y2="431.62" stroke="#111" stroke-width="1.0" />
<text x="316.80" y="434.24" font-size="8.4" text-anchor="end" font-weight="normal" font-style="normal" fill="#111" >100</text>
<line x1="323.40" y1="400.94" x2="326.00" y2="400.94" stroke="#111" stroke-width="1.0" />
<text x="316.80" y="403.56" font-size="8.4" text-anchor="end" font-weight="normal" font-style="normal" fill="#111" >200</text>
<line x1="323.40" y1="370.26" x2="326.00" y2="370.26" stroke="#111" stroke-width="1.0" />
<text x="316.80" y="372.88" font-size="8.4" text-anchor="end" font-weight="normal" font-style="normal" fill="#111" >300</text>
<line x1="323.40" y1="339.58" x2="326.00" y2="339.58" stroke="#111" stroke-width="1.0" />
<text x="316.80" y="342.20" font-size="8.4" text-anchor="end" font-weight="normal" font-style="normal" fill="#111" >400</text>
<line x1="323.00" y1="462.30" x2="443.00" y2="462.30" stroke="#111" stroke-width="1.0" />
<text x="335.40" y="474.40" font-size="8.4" text-anchor="middle" font-weight="normal" font-style="normal" fill="#111" >0</text>
<text x="360.00" y="474.40" font-size="8.4" text-anchor="middle" font-weight="normal" font-style="normal" fill="#111" >5</text>
<text x="384.60" y="474.40" font-size="8.4" text-anchor="middle" font-weight="normal" font-style="normal" fill="#111" >9</text>
<text x="409.20" y="474.40" font-size="8.4" text-anchor="middle" font-weight="normal" font-style="normal" fill="#111" >13</text>
<text x="433.80" y="474.40" font-size="8.4" text-anchor="middle" font-weight="normal" font-style="normal" fill="#111" >17</text>
<line x1="347.70" y1="462.30" x2="347.70" y2="464.70" stroke="#111" stroke-width="1.0" />
<line x1="372.30" y1="462.30" x2="372.30" y2="464.70" stroke="#111" stroke-width="1.0" />
<line x1="396.90" y1="462.30" x2="396.90" y2="464.70" stroke="#111" stroke-width="1.0" />
<line x1="421.50" y1="462.30" x2="421.50" y2="464.70" stroke="#111" stroke-width="1.0" />
<text x="384.70" y="485.40" font-size="8.4" text-anchor="middle" font-weight="normal" font-style="normal" fill="#111" >Days</text>
<text transform="translate(291.9,396.4) rotate(-90)" font-size="8.4" text-anchor="middle" fill="#111">Tumor volume (mm<tspan baseline-shift="super" font-size="5.6">3</tspan>)</text>
<line x1="409.20" y1="429.47" x2="409.20" y2="438.68" stroke="#111" stroke-width="1.2" />
<line x1="406.80" y1="429.47" x2="411.60" y2="429.47" stroke="#111" stroke-width="1.2" />
<line x1="406.80" y1="438.68" x2="411.60" y2="438.68" stroke="#111" stroke-width="1.2" />
<line x1="433.80" y1="387.75" x2="433.80" y2="410.14" stroke="#111" stroke-width="1.2" />
<line x1="431.40" y1="387.75" x2="436.20" y2="387.75" stroke="#111" stroke-width="1.2" />
<line x1="431.40" y1="410.14" x2="436.20" y2="410.14" stroke="#111" stroke-width="1.2" />
<polyline points="335.4,462.3 360.0,461.1 384.6,454.9 409.2,434.1 433.8,398.8" fill="none" stroke="#111" stroke-width="1.5" stroke-linejoin="round" />
<line x1="360.00" y1="458.00" x2="360.00" y2="461.07" stroke="#b4b4b4" stroke-width="0.9" />
<line x1="357.60" y1="458.00" x2="362.40" y2="458.00" stroke="#b4b4b4" stroke-width="0.9" />
<line x1="357.60" y1="461.07" x2="362.40" y2="461.07" stroke="#b4b4b4" stroke-width="0.9" />
<line x1="384.60" y1="450.03" x2="384.60" y2="456.16" stroke="#b4b4b4" stroke-width="0.9" />
<line x1="382.20" y1="450.03" x2="387.00" y2="450.03" stroke="#b4b4b4" stroke-width="0.9" />
<line x1="382.20" y1="456.16" x2="387.00" y2="456.16" stroke="#b4b4b4" stroke-width="0.9" />
<line x1="409.20" y1="408.30" x2="409.20" y2="423.64" stroke="#b4b4b4" stroke-width="0.9" />
<line x1="406.80" y1="408.30" x2="411.60" y2="408.30" stroke="#b4b4b4" stroke-width="0.9" />
<line x1="406.80" y1="423.64" x2="411.60" y2="423.64" stroke="#b4b4b4" stroke-width="0.9" />
<line x1="433.80" y1="363.82" x2="433.80" y2="394.80" stroke="#b4b4b4" stroke-width="0.9" />
<line x1="431.40" y1="363.82" x2="436.20" y2="363.82" stroke="#b4b4b4" stroke-width="0.9" />
<line x1="431.40" y1="394.80" x2="436.20" y2="394.80" stroke="#b4b4b4" stroke-width="0.9" />
<polyline points="335.4,462.3 360.0,459.5 384.6,453.1 409.2,414.4 433.8,378.9" fill="none" stroke="#959595" stroke-width="1.4" stroke-linejoin="round" />
<line x1="360.00" y1="456.78" x2="360.00" y2="460.46" stroke="#c0c0c0" stroke-width="0.9" />
<line x1="357.60" y1="456.78" x2="362.40" y2="456.78" stroke="#c0c0c0" stroke-width="0.9" />
<line x1="357.60" y1="460.46" x2="362.40" y2="460.46" stroke="#c0c0c0" stroke-width="0.9" />
<line x1="384.60" y1="447.57" x2="384.60" y2="454.94" stroke="#c0c0c0" stroke-width="0.9" />
<line x1="382.20" y1="447.57" x2="387.00" y2="447.57" stroke="#c0c0c0" stroke-width="0.9" />
<line x1="382.20" y1="454.94" x2="387.00" y2="454.94" stroke="#c0c0c0" stroke-width="0.9" />
<line x1="409.20" y1="399.10" x2="409.20" y2="425.48" stroke="#c0c0c0" stroke-width="0.9" />
<line x1="406.80" y1="399.10" x2="411.60" y2="399.10" stroke="#c0c0c0" stroke-width="0.9" />
<line x1="406.80" y1="425.48" x2="411.60" y2="425.48" stroke="#c0c0c0" stroke-width="0.9" />
<line x1="433.80" y1="354.31" x2="433.80" y2="396.64" stroke="#c0c0c0" stroke-width="0.9" />
<line x1="431.40" y1="354.31" x2="436.20" y2="354.31" stroke="#c0c0c0" stroke-width="0.9" />
<line x1="431.40" y1="396.64" x2="436.20" y2="396.64" stroke="#c0c0c0" stroke-width="0.9" />
<polyline points="335.4,462.3 360.0,458.6 384.6,451.3 409.2,410.8 433.8,377.0" fill="none" stroke="#9c9c9c" stroke-width="1.1" stroke-linejoin="round" stroke-dasharray="2 1.1"/>
<line x1="326.6" y1="347.6" x2="351.6" y2="347.6" stroke="#111" stroke-width="1.5" />
<text x="356.30" y="350.50" font-size="8.2" text-anchor="start" font-weight="normal" font-style="normal" fill="#111" >GFP</text>
<line x1="326.6" y1="359.5" x2="351.6" y2="359.5" stroke="#959595" stroke-width="1.4" />
<text x="356.30" y="362.35" font-size="8.2" text-anchor="start" font-weight="normal" font-style="normal" fill="#111" >SOX9</text>
<line x1="326.6" y1="371.3" x2="351.6" y2="371.3" stroke="#9c9c9c" stroke-width="1.1" stroke-dasharray="2 1.1"/>
<text x="356.30" y="374.20" font-size="8.2" text-anchor="start" font-weight="normal" font-style="normal" fill="#111" >SOX9 cisplatin</text>
<polyline points="440.2,377.8 443.6,377.8 443.6,398.0 440.2,398.0" fill="none" stroke="#111" stroke-width="1.0"/>
<polyline points="450.0,371.6 453.4,371.6 453.4,398.0 450.0,398.0" fill="none" stroke="#111" stroke-width="1.0"/>
<text x="446.20" y="390.06" font-size="7.4" text-anchor="middle" font-weight="bold" font-style="normal" fill="#111" >*</text>
<text x="459.40" y="389.65" font-size="7.4" text-anchor="middle" font-weight="bold" font-style="normal" fill="#111" >*</text>
</svg>
</body>
</html>
